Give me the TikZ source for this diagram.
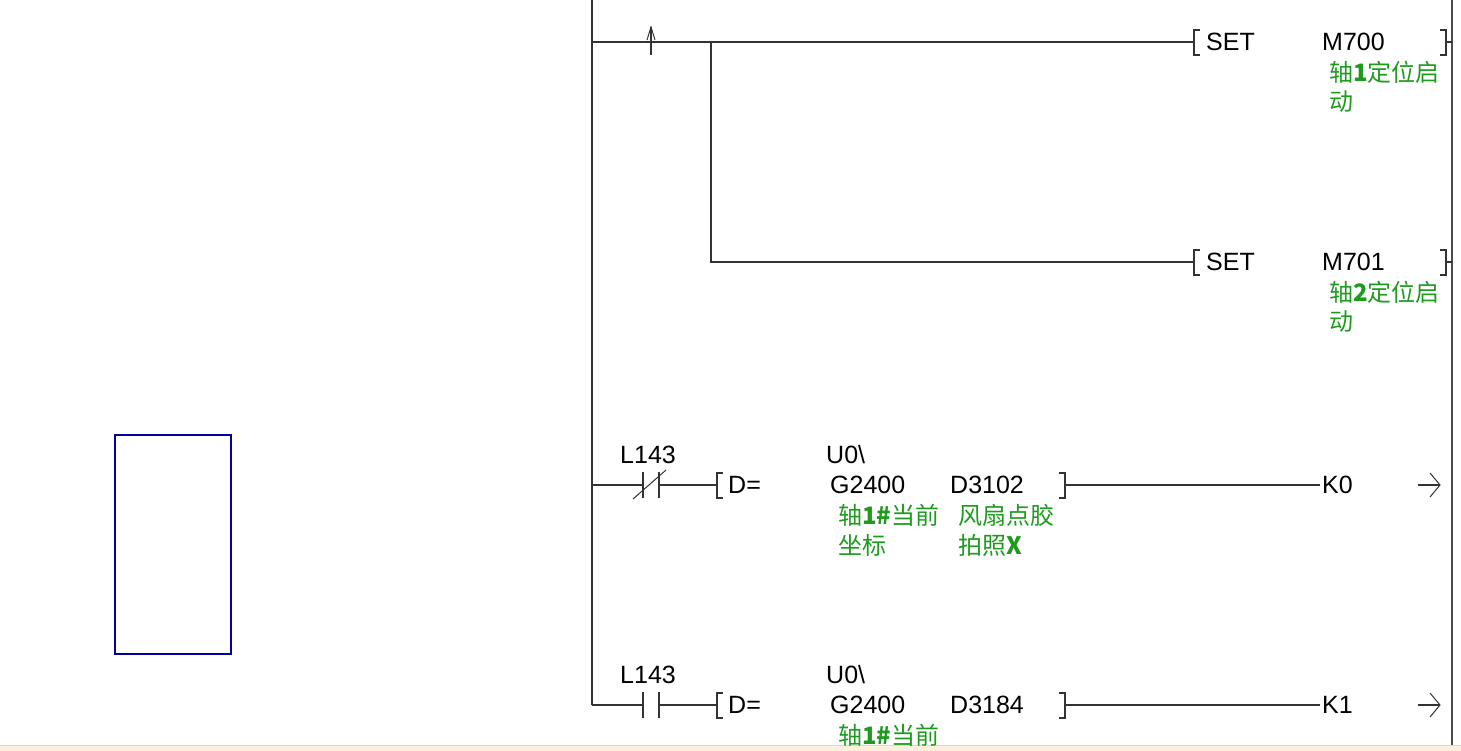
\documentclass[tikz,border=0pt]{standalone}
\usepackage{fontspec}
\setmainfont{Liberation Sans}
\newfontfamily\cjk{Noto Sans CJK SC}
\definecolor{cmt}{HTML}{1E9A1E}
\definecolor{blu}{HTML}{0000A0}
\definecolor{strip}{HTML}{FCEFDC}
\begin{document}
\begin{tikzpicture}[x=1pt,y=-1pt,
  wire/.style={line width=1.3pt,black!80},
  lbl/.style={anchor=west,inner sep=0,font=\fontsize{25}{25}\selectfont},
  cmnt/.style={anchor=west,inner sep=0,text=cmt,font=\cjk\fontsize{24}{24}\selectfont}]
\useasboundingbox (0,0) rectangle (1461,751);
\fill[strip] (0,745) rectangle (1461,751);
\draw[black!15] (0,745)--(1461,745);
\draw[blu,line width=2pt] (115,435) rectangle (231,654);
% rails
\coordinate (lt) at (592,0); \coordinate (lb) at (592,705);
\coordinate (rt) at (1452,0); \coordinate (rb) at (1452,745);
\draw[wire] (lt)--(lb); \draw[wire,line width=2pt,black!70] (rt)--(rb);
% rung 1
\coordinate (r1a) at (592,42); \coordinate (b1) at (1193,42); \coordinate (br) at (711,42);
\coordinate (b2) at (1193,262); \coordinate (brb) at (711,262);
\draw[wire] (r1a)--(b1);
\draw[wire] (br)--(brb)--(b2);
\coordinate (ea) at (651,55); \coordinate (eb) at (651,27);
\draw[wire] (ea)--(eb);
\draw[wire,line width=1pt] (647,40)--(651,27)--(655,40);
\foreach \y/\m/\c in {42/M700/1,262/M701/2}{
  \draw[wire] (1200,\y-12)--(1194,\y-12)--(1194,\y+13)--(1200,\y+13);
  \draw[wire] (1440,\y-12)--(1446,\y-12)--(1446,\y+13)--(1440,\y+13);
  \draw[wire] (1446,\y)--(1452,\y);
  \node[lbl] at (1206,\y) {SET};
  \node[lbl] at (1322,\y) {\m};
  \node[cmnt] at (1329,\y+30) {轴\textbf{\c}定位启};
  \node[cmnt] at (1329,\y+60) {动};
}
% rungs 3,4
\foreach \y/\d/\k in {485/D3102/K0,705/D3184/K1}{
  \draw[wire] (592,\y)--(643,\y);
  \draw[wire] (643,\y-13)--(643,\y+13);
  \draw[wire] (659,\y-13)--(659,\y+13);
  \draw[wire] (659,\y)--(717,\y);
  \node[lbl] at (620,\y-30) {L143};
  \draw[wire] (723,\y-12)--(717,\y-12)--(717,\y+13)--(723,\y+13);
  \node[lbl] at (728,\y) {D=};
  \node[lbl] at (826,\y-30) {U0\textbackslash};
  \node[lbl] at (830,\y) {G2400};
  \node[lbl] at (950,\y) {\d};
  \draw[wire] (1059,\y-12)--(1065,\y-12)--(1065,\y+13)--(1059,\y+13);
  \draw[wire] (1065,\y)--(1320,\y);
  \node[lbl] at (1322,\y) {\k};
  \draw[wire] (1418,\y)--(1440,\y);
  \draw[wire,line width=1pt] (1430,\y-12)--(1440,\y)--(1430,\y+12);
  \node[cmnt] at (838,\y+30) {轴\textbf{1\#}当前};
}
\draw[wire,line width=1pt] (633,499)--(666,470);
\node[cmnt] at (838,545) {坐标};
\node[cmnt] at (958,515) {风扇点胶};
\node[cmnt] at (958,545) {拍照\textbf{X}};
\end{tikzpicture}
\end{document}
